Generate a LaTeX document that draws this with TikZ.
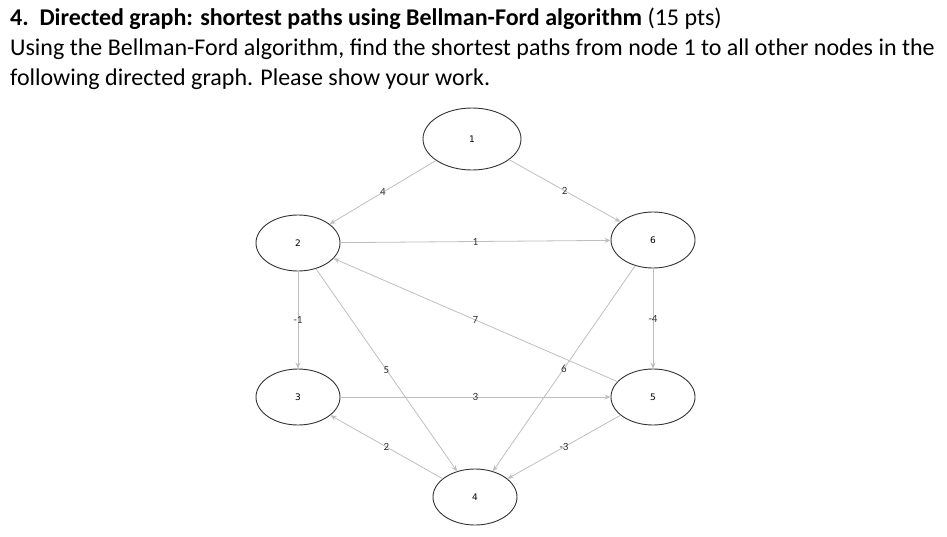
\documentclass[tikz,border=0pt]{standalone}
\usepackage{fontspec}
\setmainfont{Carlito}
\newfontfamily\nodefont{DejaVu Sans}
\usetikzlibrary{arrows.meta,shapes.geometric}
\begin{document}
\begin{tikzpicture}[x=1pt,y=-1pt,
  vtx/.style={ellipse,draw=black!80,line width=0.9pt,fill=white,minimum width=84pt,minimum height=56pt,inner sep=0pt,font=\nodefont\fontsize{9}{10}\selectfont},
  big/.style={minimum width=98pt,minimum height=62pt},
  edge/.style={draw=black!25,line width=0.8pt,-{Stealth[length=6pt,width=5pt]}},
  lbl/.style={font=\fontsize{11}{12}\selectfont,text=black!80,inner sep=0pt}]
\useasboundingbox (0,0) rectangle (947,536);
\node[anchor=base west,inner sep=0pt,font=\fontsize{24}{28}\selectfont] (t1) at (10,25) {\textbf{4.\ \ Directed graph: shortest paths using Bellman-Ford algorithm} (15 pts)};
\node[anchor=base west,inner sep=0pt,font=\fontsize{24}{28}\selectfont] (t2) at (10,55) {Using the Bellman-Ford algorithm, find the shortest paths from node 1 to all other nodes in the};
\node[anchor=base west,inner sep=0pt,font=\fontsize{24}{28}\selectfont] (t3) at (10,85) {following directed graph. Please show your work.};
\node[vtx,big] (n1) at (472,139) {1};
\node[vtx] (n2) at (298,243) {2};
\node[vtx] (n6) at (653,240) {6};
\node[vtx] (n3) at (298,397) {3};
\node[vtx] (n5) at (653,397) {5};
\node[vtx] (n4) at (475,497) {4};
\draw[edge] (n1) -- node[lbl]{4} (n2);
\draw[edge] (n1) -- node[lbl]{2} (n6);
\draw[edge] (n2) -- node[lbl]{1} (n6);
\draw[edge] (n2) -- node[lbl]{-1} (n3);
\draw[edge] (n6) -- node[lbl]{-4} (n5);
\draw[edge] (n5) -- node[lbl]{7} (n2);
\draw[edge] (n2) -- node[lbl]{5} (n4);
\draw[edge] (n6) -- node[lbl]{6} (n4);
\draw[edge] (n3) -- node[lbl]{3} (n5);
\draw[edge] (n4) -- node[lbl]{2} (n3);
\draw[edge] (n5) -- node[lbl]{-3} (n4);
\end{tikzpicture}
\end{document}
